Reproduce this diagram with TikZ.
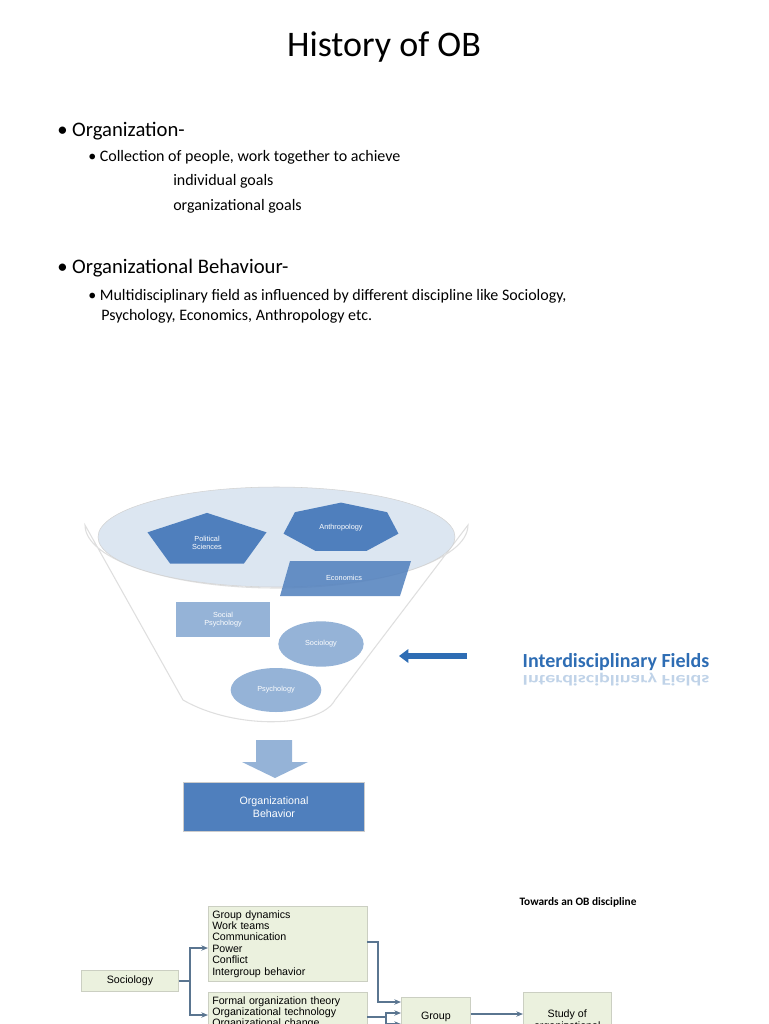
\documentclass[tikz,border=0pt]{standalone}
\usepackage{fontspec}
\setmainfont{Carlito}
\newfontfamily\arialf{Liberation Sans}
\usetikzlibrary{shapes.geometric,arrows.meta}
\definecolor{dblue}{HTML}{4F7FBD}
\definecolor{lblue}{HTML}{95B3D7}
\definecolor{pale}{HTML}{DCE6F1}
\definecolor{gbox}{HTML}{EBF1DE}
\definecolor{gline}{HTML}{5A7590}
\definecolor{ifblue}{HTML}{2E6DB4}
\tikzset{
 fshape/.style={fill=dblue,text=white,font=\arialf\fontsize{5.5}{6.5}\selectfont,align=center,inner sep=0pt},
 lshape/.style={fill=lblue,text=white,font=\arialf\fontsize{5.5}{6.5}\selectfont,align=center,inner sep=0pt},
 gb/.style={fill=gbox,draw=gbox!70!gray,anchor=north west,align=left,font=\arialf\fontsize{8}{8.6}\selectfont,inner sep=3pt},
 conn/.style={gline,line width=1pt,-{Stealth[length=5pt,width=4pt]}},
 bul/.style={anchor=west,inner sep=0pt}
}
\begin{document}
\begin{tikzpicture}[x=0.75pt,y=-0.75pt]
\useasboundingbox (0,0) rectangle (768,1024);
\clip (0,0) rectangle (768,1024);
% text
\node (title) at (384,47) {\fontsize{27}{30}\selectfont History of OB};
\node[bul] (b1) at (57,131) {\fontsize{15.5}{18}\selectfont • Organization-};
\node[bul] (b11) at (88,157) {\fontsize{12}{14}\selectfont • Collection of people, work together to achieve};
\node[bul] (b12) at (173,181) {\fontsize{12}{14}\selectfont individual goals};
\node[bul] (b13) at (173,206) {\fontsize{12}{14}\selectfont organizational goals};
\node[bul] (b2) at (57,268) {\fontsize{15.5}{18}\selectfont • Organizational Behaviour-};
\node[bul] (b21) at (88,296) {\fontsize{12}{14}\selectfont • Multidisciplinary field as influenced by different discipline like Sociology,};
\node[bul] (b22) at (101,316) {\fontsize{12}{14}\selectfont Psychology, Economics, Anthropology etc.};
% funnel
\draw[gray!25,fill=white,line width=0.8pt] (85,525) arc[start angle=180,end angle=0,x radius=191.5,y radius=63] -- (335,700) .. controls (320,728) and (235,730) .. (183,700) -- cycle;
\fill[pale,draw=gray!35] (276.5,537) ellipse[x radius=178.5,y radius=50];
\node[fshape,regular polygon,regular polygon sides=5,minimum size=68pt,xscale=1.38,yscale=0.62] (pol) at (207,541) {};
\node[font=\arialf\fontsize{5.5}{6.5}\selectfont,text=white,align=center] (polt) at (207,543) {Political\\Sciences};
\node[fshape,regular polygon,regular polygon sides=7,minimum size=68pt,xscale=1.3,yscale=0.56] (ant) at (341,528) {};
\node[font=\arialf\fontsize{5.5}{6.5}\selectfont,text=white] (antt) at (341,528) {Anthropology};
\fill[dblue,opacity=0.85] (290,561) -- (411,561) -- (400,596) -- (280,596) -- cycle;
\node[font=\arialf\fontsize{5.5}{6.5}\selectfont,text=white] (eco) at (344,578) {Economics};
\node[lshape,minimum width=70.5pt,minimum height=26pt] (sp) at (223,619.5) {Social\\Psychology};
\node[lshape,ellipse,minimum width=64pt,minimum height=34pt] (soc) at (321,644) {Sociology};
\node[lshape,ellipse,minimum width=68pt,minimum height=33pt] (psy) at (276,690) {Psychology};
\fill[lblue] (256,740) -- (292,740) -- (292,762) -- (308,762) -- (275,778) -- (242,762) -- (256,762) -- cycle;
\node[fill=dblue,draw=gray!40,line width=1pt,minimum width=136pt,minimum height=37pt,text=white,align=center,font=\arialf\fontsize{8}{10}\selectfont] (ob) at (274,807) {Organizational\\Behavior};
% left arrow
\coordinate (ar1) at (467,656);
\coordinate (ar2) at (399,656);
\draw[ifblue,line width=4.5pt,-{Triangle[length=7pt,width=10pt]}] (ar1) -- (ar2);
\node[font=\bfseries\fontsize{15}{17}\selectfont,text=ifblue] (ifl) at (616,662) {Interdisciplinary Fields};
\node[font=\bfseries\fontsize{15}{17}\selectfont,text=ifblue,opacity=0.3,yscale=-0.75] (iflr) at (616,680) {Interdisciplinary Fields};
% bottom diagram
\node[font=\bfseries\fontsize{8.5}{10}\selectfont] (tow) at (578,902) {Towards an OB discipline};
\node[fill=gbox,draw=gbox!70!gray,minimum width=73pt,minimum height=16pt,font=\arialf\fontsize{8}{9}\selectfont] (socb) at (130,981) {Sociology};
\node[gb,text width=113pt] (gd) at (208,906) {Group dynamics\\Work teams\\Communication\\Power\\Conflict\\Intergroup behavior};
\node[gb,text width=113pt] (fo) at (208,992) {Formal organization theory\\Organizational technology\\Organizational change};
\node[fill=gbox,draw=gbox!70!gray,minimum width=52pt,minimum height=30pt,font=\arialf\fontsize{8}{9}\selectfont,anchor=north west] (grp) at (401,997) {Group};
\node[fill=gbox,draw=gbox!70!gray,minimum width=66pt,minimum height=50pt,align=center,anchor=north west,font=\arialf\fontsize{8}{9}\selectfont] (stu) at (523,992) {Study of\\organizational\\behavior};
\draw[gline,line width=1pt] (socb.east) -- ++(10,0);
\draw[conn] (190,981) |- (gd.west |- 0,948) ;
\draw[conn] (190,981) |- (fo.west |- 0,1015);
\draw[conn] (gd.east |- 0,942) -| (378,1002) -- (grp.west |- 0,1002);
\draw[conn] (fo.east |- 0,1017) -- (386,1017) |- (grp.west |- 0,1013);
\draw[conn] (386,1017) |- (grp.west |- 0,1024);
\draw[conn] (grp.east |- 0,1014) -- (stu.west |- 0,1014);
\end{tikzpicture}
\end{document}
